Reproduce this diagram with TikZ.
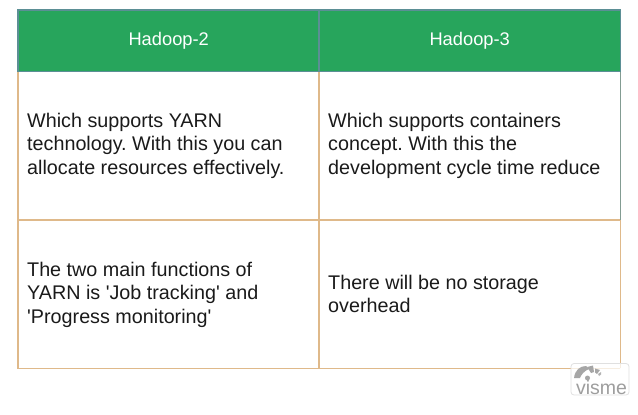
\documentclass[tikz,border=0pt]{standalone}
\usepackage{fontspec}
\setmainfont{Liberation Sans}
\newfontfamily\plainsans{Liberation Sans}
\definecolor{hgreen}{HTML}{27A55C}
\definecolor{hblue}{HTML}{5B8F95}
\definecolor{horange}{HTML}{DFB98A}
\definecolor{bodytext}{HTML}{1A1A1A}
\tikzset{
  x=1pt,y=-1pt,
  headcell/.style={fill=hgreen,draw=none,minimum width=301pt,minimum height=61pt,inner sep=0pt,anchor=north west,text=white,font=\plainsans\fontsize{18.3}{22}\selectfont},
  bodycell/.style={draw=none,minimum width=301pt,minimum height=148.5pt,inner sep=0pt,anchor=north west},
  celltext/.style={anchor=west,align=left,inner sep=0pt,text=bodytext,font=\plainsans\frenchspacing\fontsize{19.75}{23.6}\selectfont},
  orangeline/.style={draw=horange,line width=1.5pt},
  blueline/.style={draw=hblue,line width=1.5pt},
  midline/.style={line width=2pt},
}
\begin{document}
\begin{tikzpicture}
\useasboundingbox (0,0) rectangle (638,415);
\node[headcell] (h1) at (18,10) {\raisebox{-1pt}{Hadoop-2}};
\node[headcell] (h2) at (319,10) {\raisebox{-1pt}{Hadoop-3}};
\node[bodycell] (a1) at (18,71) {};
\node[bodycell] (a2) at (319,71) {};
\node[bodycell] (b1) at (18,219.5) {};
\node[bodycell] (b2) at (319,219.5) {};
\draw[orangeline] (a1.north west) -- (b1.south west) -- (b2.south east);
\draw[orangeline,midline] (a1.north east) -- (b1.south east);
\draw[orangeline] (a1.south west) -- (a2.south east);
\draw[orangeline] (b2.south east) -- (a2.south east);
\draw[blueline,draw=hblue!70!horange] (a2.south east) -- (a2.north east);
\draw[blueline] (h1.north west) -- (h2.north east) -- (h2.south east) -- (h1.south west) -- cycle;
\draw[blueline,midline] (h1.north east) -- (h1.south east);
\node[celltext] (t1) at (27,145.5) {Which supports YARN\\technology. With this you can\\allocate resources effectively.};
\node[celltext] (t2) at (328,145.5) {Which supports containers\\concept. With this the\\development cycle time reduce};
\node[celltext] (t3) at (27,294.5) {The two main functions of\\YARN is 'Job tracking' and\\'Progress monitoring'};
\node[celltext] (t4) at (328,294) {There will be no storage\\overhead};
% watermark
\fill[white,fill opacity=0.75,draw=black!12,line width=0.8pt,rounded corners=3pt] (571,363.5) rectangle (629,395);
\node[inner sep=0pt,text=black!38,font=\plainsans\fontsize{19.5}{20}\selectfont] (logo) at (601.5,387.5) {visme};
\fill[black!35] (574,378) .. controls (575,370) and (580,366) .. (586,366) -- (589,369) .. controls (584,371) and (581,375) .. (580,378) -- cycle;
\fill[black!35] (587,367) -- (593,365.5) -- (594,372) -- (591,373) -- cycle;
\fill[black!35] (595,368.5) -- (600,370) -- (597,374) -- (595,372.5) -- cycle;
\fill[black!30] (598,374) -- (601,372) -- (601,374.5) -- (599,376) -- cycle;
\fill[black!35] (587.5,378) circle (2.5);
\end{tikzpicture}
\end{document}
